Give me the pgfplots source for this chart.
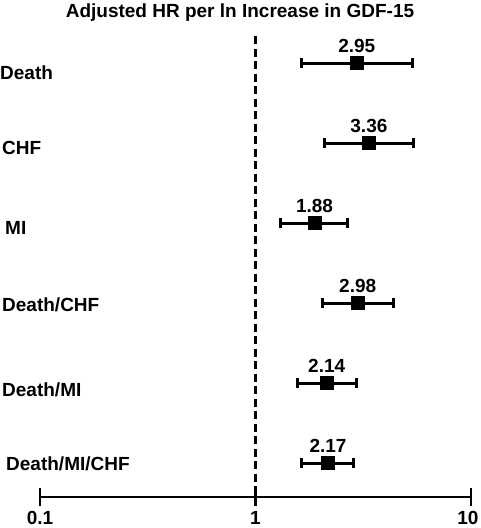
\documentclass[border=0pt]{standalone}
\usepackage{fontspec}
\setmainfont{Liberation Sans}
\usepackage{pgfplots}
\pgfplotsset{compat=1.18}
\usepackage{pgfplotstable}

\newcommand\bigbf{\bfseries\fontsize{19}{22}\selectfont}

% row, estimate, lower and upper CI
\pgfplotstableread{
y est lo hi lab
6 2.95 1.63 5.37 2.95
5 3.36 2.10 5.41 3.36
4 1.88 1.30 2.68 1.88
3 2.98 2.04 4.38 2.98
2 2.14 1.56 2.93 2.14
1 2.17 1.63 2.86 2.17
}\hrdata

\begin{document}
\begin{tikzpicture}[x=1pt,y=1pt]
\path[use as bounding box] (0,0) rectangle (480,-528);
\begin{axis}[
    at={(40pt,-497pt)}, anchor=south west,
    scale only axis, width=431pt, height=461pt,
    xmode=log, xmin=0.1, xmax=10,
    ymin=0.575, ymax=6.3375,
    axis y line=none, axis x line*=bottom,
    axis line style={line width=2.4pt, -},
    xtick={0.1,1,10}, xticklabels={0.1,1,\hspace*{-6pt}10},
    xminorticks=false,
    xtick align=center, major tick length=18pt,
    tick style={line width=2.4pt, black},
    /pgf/number format/assume math mode=true,
    xticklabel style={font=\bigbf, yshift=-1.5pt},
    clip=false,
]
\addplot[black, line width=2.2pt, dash pattern=on 8pt off 4.5pt]
    coordinates {(1,6.3375) (1,0.575)};

% confidence intervals, one segment per row
\pgfplotsinvokeforeach{0,...,5}{
  \pgfplotstablegetelem{#1}{lo}\of\hrdata \edef\cilo{\pgfplotsretval}
  \pgfplotstablegetelem{#1}{hi}\of\hrdata \edef\cihi{\pgfplotsretval}
  \pgfplotstablegetelem{#1}{y}\of\hrdata \edef\ciy{\pgfplotsretval}
  \addplot[black, line width=3pt, mark=|, mark size=5pt,
           mark options={line width=3pt}]
    coordinates {(\cilo,\ciy) (\cihi,\ciy)};
}

\addplot[only marks, mark=square*, mark size=6.5pt, black,
    point meta=explicit symbolic,
    nodes near coords,
    nodes near coords style={font=\bigbf, anchor=base, yshift=11pt, inner sep=0pt}]
    table[x=est, y=y, meta=lab] {\hrdata};
\end{axis}

\node[font=\bigbf] at (240,-13) {Adjusted HR per ln Increase in GDF-15};
\node[font=\bigbf, anchor=west, inner sep=0pt] at (0,-73) {Death};
\node[font=\bigbf, anchor=west, inner sep=0pt] at (2,-148) {CHF};
\node[font=\bigbf, anchor=west, inner sep=0pt] at (5,-228) {MI};
\node[font=\bigbf, anchor=west, inner sep=0pt] at (2,-305) {Death/CHF};
\node[font=\bigbf, anchor=west, inner sep=0pt] at (2,-390) {Death/MI};
\node[font=\bigbf, anchor=west, inner sep=0pt] at (6,-464) {Death/MI/CHF};
\end{tikzpicture}
\end{document}
